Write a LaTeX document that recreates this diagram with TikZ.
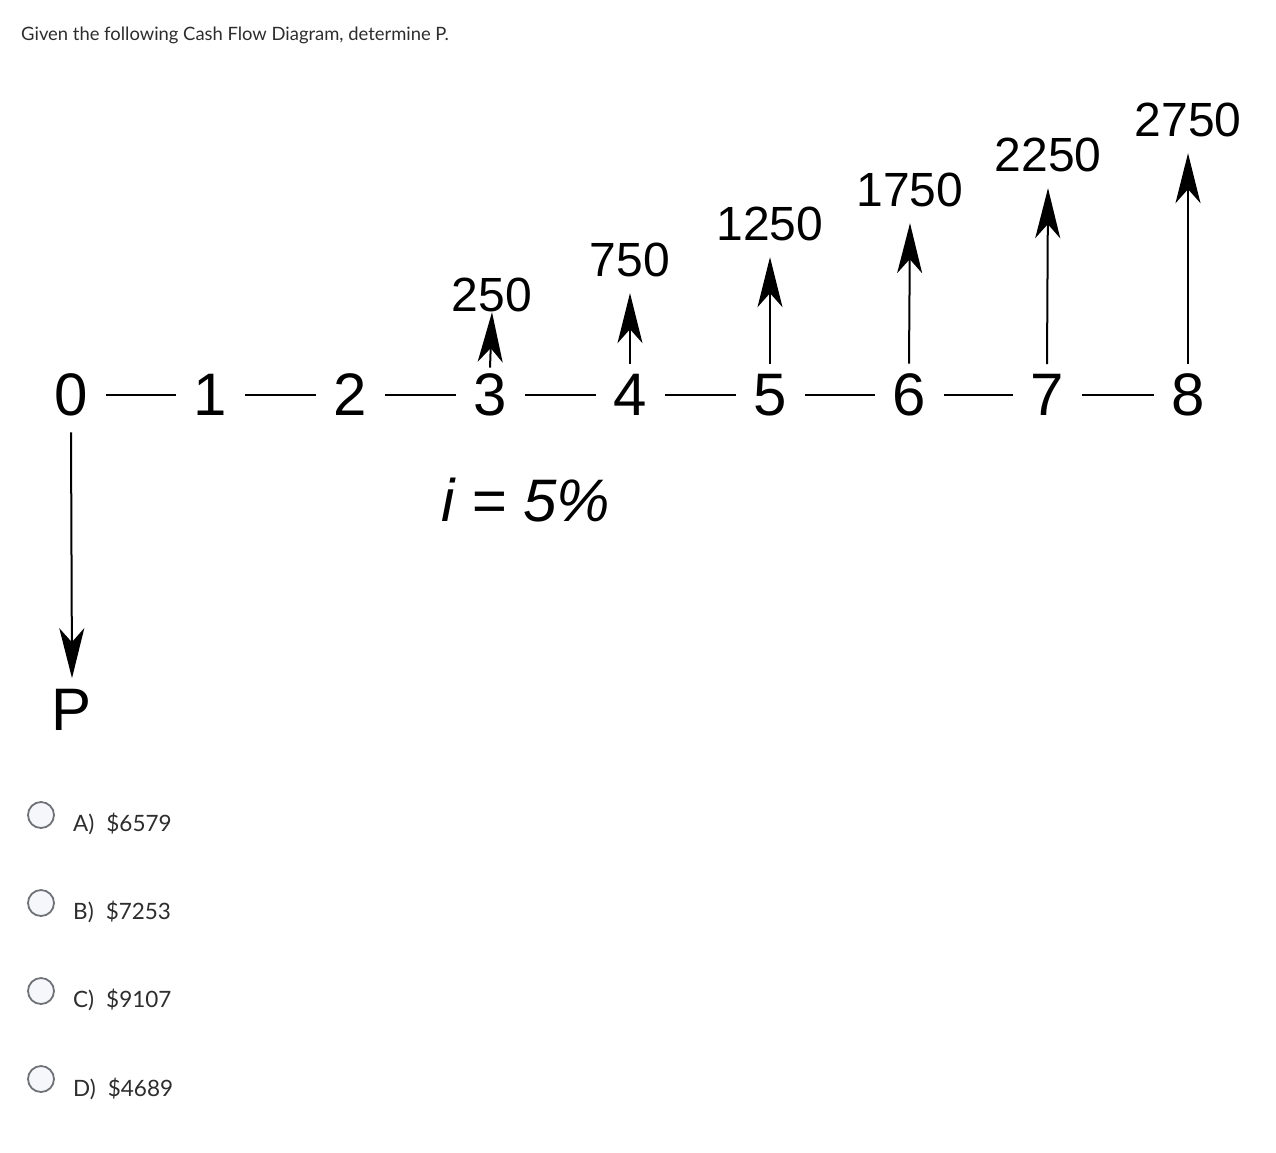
\documentclass[tikz,border=0pt]{standalone}
\usepackage{fontspec}
\setmainfont{Liberation Sans}
\newfontfamily\latofont{Lato}
\usetikzlibrary{arrows.meta}
\definecolor{qtext}{HTML}{2D2D2D}
\definecolor{radioedge}{HTML}{6F7378}
\definecolor{radiofill}{HTML}{F5F7FB}
\begin{document}
\begin{tikzpicture}[x=1pt,y=-1pt,
  digit/.style={inner sep=0pt, font=\fontsize{60}{60}\selectfont},
  amt/.style={inner sep=0pt, font=\fontsize{48}{48}\selectfont},
  axisdash/.style={line width=2.4pt, shorten <=18pt, shorten >=17pt},
  flow/.style={line width=2pt, -{Stealth[length=50pt,width=25pt,inset=14pt]}},
  question/.style={inner sep=0pt, anchor=base west, text=qtext, font=\latofont\fontsize{18.4}{18.4}\selectfont},
  option/.style={inner sep=0pt, anchor=base west, text=qtext, font=\latofont\fontsize{22.5}{22.5}\selectfont},
  radio/.style={circle, draw=radioedge, fill=radiofill, line width=1.8pt, minimum size=26pt, inner sep=0pt}]
\useasboundingbox (0,0) rectangle (1276,1152);

\node[question] (title) at (21,40) {Given the following Cash Flow Diagram, determine P.};

% time axis
\node[digit] (d0) at (71,395) {0};
\node[digit] (d1) at (210,395) {1};
\node[digit] (d2) at (350,395) {2};
\node[digit] (d3) at (490,395) {3};
\node[digit] (d4) at (630,395) {4};
\node[digit] (d5) at (770,395) {5};
\node[digit] (d6) at (909,395) {6};
\node[digit] (d7) at (1047,395) {7};
\node[digit] (d8) at (1188,395) {8};
\foreach \a/\b in {d0/d1,d1/d2,d2/d3,d3/d4,d4/d5,d5/d6,d6/d7,d7/d8}
  \draw[axisdash] (\a) -- (\b);

% amounts
\node[amt] (l3) at (492,295) {250};
\node[amt] (l4) at (630,260) {750};
\node[amt] (l5) at (770,224) {1250};
\node[amt] (l6) at (910,190) {1750};
\node[amt] (l7) at (1048,155) {2250};
\node[amt] (l8) at (1188,120) {2750};

\draw[flow] ([yshift=6pt]d3.north) -- (l3.south);
\foreach \n in {4,5,6,7,8}
  \draw[flow] ([yshift=10pt]d\n.north) -- ([yshift=-16pt]l\n.south);

% present value
\node[digit] (P) at (72,710) {P};
\draw[flow] ([yshift=-16pt]d0.south) -- ([yshift=11pt]P.north);

\node[inner sep=0pt, font=\fontsize{60}{60}\selectfont\itshape] (rate) at (526,500) {i = 5\%};

% options
\node[radio] (ra) at (41,815) {};
\node[radio] (rb) at (41,903) {};
\node[radio] (rc) at (41,991) {};
\node[radio] (rd) at (41,1079) {};
\node[option] (oa) at (73,831) {A)\hspace{12pt}\$6579};
\node[option] (ob) at (73,919) {B)\hspace{12pt}\$7253};
\node[option] (oc) at (73,1007) {C)\hspace{12pt}\$9107};
\node[option] (od) at (73,1096) {D)\hspace{12pt}\$4689};
\end{tikzpicture}
\end{document}
